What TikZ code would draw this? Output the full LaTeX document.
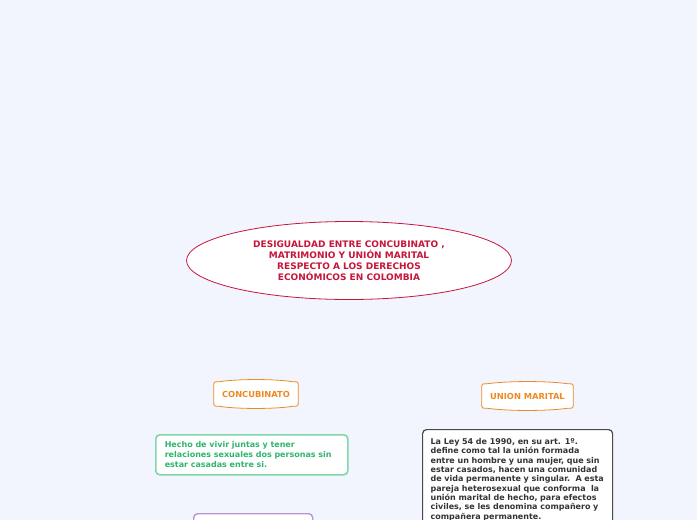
\documentclass[tikz,border=0pt]{standalone}
\usepackage{fontspec}
\setmainfont{DejaVu Sans}
\usetikzlibrary{shapes.geometric, positioning}
\definecolor{bgblue}{HTML}{F2F5FE}
\definecolor{mainred}{HTML}{C8153A}
\definecolor{topicorange}{HTML}{EE8A22}
\definecolor{notegreen}{HTML}{2FB56E}
\definecolor{notegreenline}{HTML}{80D7A8}
\definecolor{notegray}{HTML}{4A4A4A}
\definecolor{notepurple}{HTML}{B896D6}
\tikzset{
  central/.style={ellipse, draw=mainred, fill=white, text=mainred, line width=0.8,
    font=\bfseries\fontsize{9}{11}\selectfont, align=center, inner sep=0,
    minimum width=325, minimum height=78},
  topic/.style={text=topicorange, font=\bfseries\fontsize{8.3}{9}\selectfont,
    inner sep=0, minimum height=24},
  notebox/.style={rounded corners=4, fill=white, align=left,
    inner sep=0, anchor=north west},
}
\newcommand{\bulgebox}[1]{%
  \draw[topicorange, line width=0.8, fill=white]
    ([yshift=-4]#1.north west) .. controls (#1.north west) .. ([xshift=5]#1.north west)
    .. controls ([xshift=-20,yshift=3]#1.north) and ([xshift=20,yshift=3]#1.north) .. ([xshift=-5]#1.north east)
    .. controls (#1.north east) .. ([yshift=-4]#1.north east)
    -- ([yshift=4]#1.south east)
    .. controls (#1.south east) .. ([xshift=-5]#1.south east)
    .. controls ([xshift=20,yshift=-3]#1.south) and ([xshift=-20,yshift=-3]#1.south) .. ([xshift=5]#1.south west)
    .. controls (#1.south west) .. ([yshift=4]#1.south west)
    -- cycle;}
\begin{document}
\begin{tikzpicture}[x=1pt, y=-1pt]
  \fill[bgblue] (0,0) rectangle (697,520);
  \useasboundingbox (0,0) rectangle (697,520);
  % nodes %
  \node[central] (main) at (349,260.5) {DESIGUALDAD ENTRE CONCUBINATO ,\\MATRIMONIO Y UNIÓN MARITAL\\RESPECTO A LOS DERECHOS\\ECONÓMICOS EN COLOMBIA};

  \node[topic, minimum width=84] (conc) at (256,394) {};
  \bulgebox{conc}
  \node[topic, minimum width=84] at (conc) {CONCUBINATO};

  \node[topic, minimum width=91] (union) at (527.5,396) {};
  \bulgebox{union}
  \node[topic, minimum width=91] at (union) {UNION MARITAL};

  \node[notebox, draw=notegreenline, line width=1.6, text=notegreen, text width=174, inner xsep=9, inner ysep=5,
    minimum height=40, font=\bfseries\fontsize{8}{10}\selectfont] (hecho) at (155,434)
    {Hecho de vivir juntas y tener\\relaciones sexuales dos personas sin\\estar casadas entre si.};

  \node[notebox, draw=notegray, line width=1.2, text=notegray!70!black, text width=174, inner xsep=8, inner ysep=4,
    minimum height=100, font=\bfseries\fontsize{8}{9.3}\selectfont] (ley) at (422,429)
    {La Ley 54 de 1990, en su art. 1º.\\define como tal la unión formada\\entre un hombre y una mujer, que sin\\estar casados, hacen una comunidad\\de vida permanente y singular.\ \ A esta\\pareja heterosexual que conforma\ \ la\\unión marital de hecho, para efectos\\civiles, se les denomina compañero y\\compañera permanente.};

  \node[notebox, draw=notepurple, line width=1.4, minimum width=119, minimum height=40] (otro) at (193,513) {};
\end{tikzpicture}
\end{document}
